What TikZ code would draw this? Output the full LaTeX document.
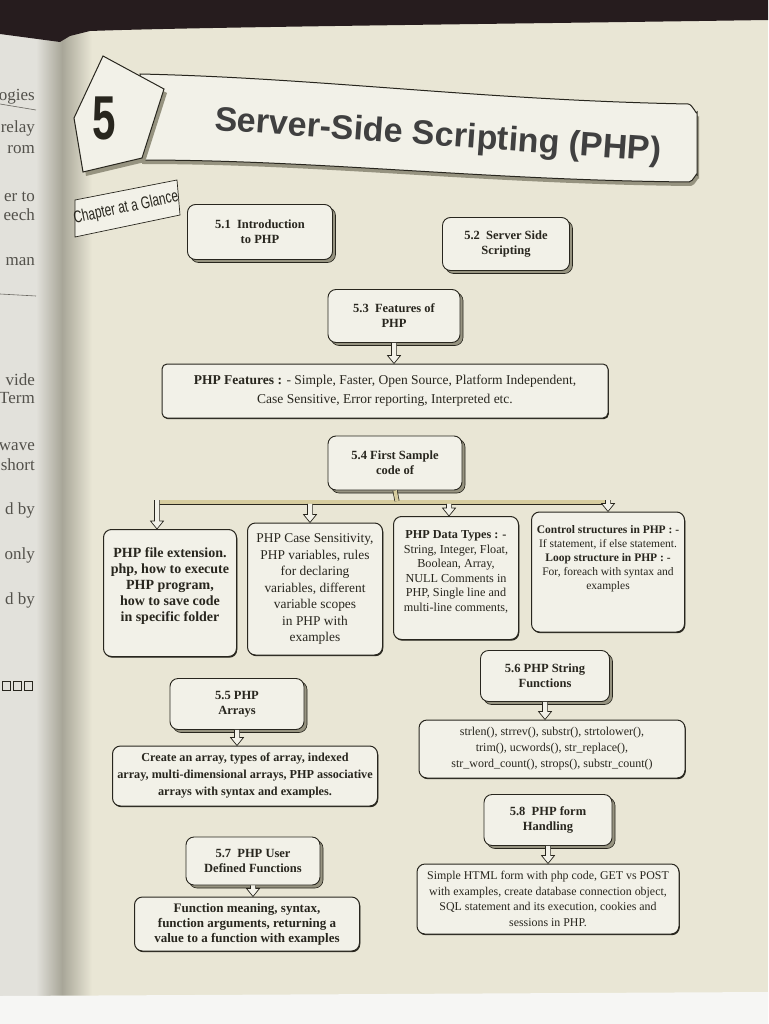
\documentclass[tikz,border=0pt]{standalone}
\usepackage{fontspec}
\setmainfont{Liberation Serif}
\newfontfamily\titlefont{Liberation Sans}
\usetikzlibrary{shadows,calc}
\newcommand{\setfs}[2]{\fontsize{#1}{#2}\selectfont}
\definecolor{pagebg}{RGB}{233,230,213}
\definecolor{boxbg}{RGB}{242,241,232}
\definecolor{leftpg}{RGB}{226,225,219}
\definecolor{spine}{RGB}{168,166,152}
\definecolor{topdark}{RGB}{38,28,30}
\definecolor{bottomw}{RGB}{246,246,244}
\definecolor{ink}{RGB}{40,38,30}
\definecolor{shadowc}{RGB}{150,147,128}
\definecolor{treefill}{RGB}{214,204,158}
\tikzset{
  head/.style={draw=ink, line width=0.9pt, rounded corners=8pt, fill=boxbg, align=center,
    text=ink, font=\bfseries\setfs{12.5}{15}, inner sep=2pt,
    general shadow={shadow xshift=3pt, shadow yshift=-3pt, fill=shadowc, draw=ink, line width=0.6pt}},
  desc/.style={draw=ink, line width=1pt, rounded corners=8pt, fill=boxbg, align=center,
    text=ink, inner sep=2pt,
    general shadow={shadow xshift=0.8pt, shadow yshift=-1.2pt, fill=ink}},
  blockarrow/.style={draw=ink, line width=0.7pt, fill=boxbg,
    to path={let \p1=(\tikztostart), \p2=(\tikztotarget) in
      (\x1-2.6pt,\y1) -- (\x1-2.6pt,\y2+8pt) -- (\x1-6.5pt,\y2+8pt) -- (\x1,\y2)
      -- (\x1+6.5pt,\y2+8pt) -- (\x1+2.6pt,\y2+8pt) -- (\x1+2.6pt,\y1)}},
  tree/.style={draw=ink, line width=0.7pt, double=treefill, double distance=3.6pt},
  leftword/.style={anchor=east, font=\setfs{17}{17}, text=ink!80, inner sep=0pt}
}
\begin{document}
\begin{tikzpicture}[x=1pt,y=-1pt]
\useasboundingbox (0,0) rectangle (768,1024);
% ---------- background (photo of the page) ----------
\fill[pagebg] (0,0) rectangle (768,1024);
\fill[leftpg] (0,0) rectangle (40,1024);
\shade[left color=leftpg, right color=spine] (36,0) rectangle (62,996);
\shade[left color=spine, right color=pagebg] (62,0) rectangle (92,996);
\fill[topdark] (0,0) -- (768,0) -- (768,20) .. controls (500,24) and (200,27) .. (90,31)
  -- (70,36) -- (60,42) -- (0,34) -- cycle;
\fill[bottomw] (0,996) -- (768,992) -- (768,1024) -- (0,1024) -- cycle;
% ---------- left page fragments ----------
\node[leftword] (l1) at (35,97) {ogies};
\draw[ink!70, line width=0.6pt] (0,104) -- (36,110);
\node[leftword] (l2) at (35,128) {relay};
\node[leftword] (l3) at (35,150) {rom};
\node[leftword] (l4) at (35,197) {er to};
\node[leftword] (l5) at (35,215) {eech};
\node[leftword] (l6) at (35,262) {man};
\draw[ink!70, line width=0.6pt] (0,294) -- (36,296);
\node[leftword] (l7) at (35,380) {vide};
\node[leftword] (l8) at (35,398) {Term};
\node[leftword] (l9) at (35,447) {wave};
\node[leftword] (l10) at (35,465) {short};
\node[leftword] (l11) at (35,510) {d by};
\node[leftword] (l12) at (35,555) {only};
\node[leftword] (l13) at (35,600) {d by};
\foreach \i in {0,1,2} {\draw[ink, line width=1pt] (2+11*\i,681) rectangle (10+11*\i,690);}
% ---------- title banner ----------
\path[draw=ink, line width=1pt, fill=boxbg,
  general shadow={shadow xshift=2pt, shadow yshift=-4pt, fill=shadowc}]
  (140,74) .. controls (320,78) and (480,100) .. (688,104)
  to[out=0,in=-90] (697,112) -- (697,175) to[out=90,in=0] (689,182)
  .. controls (480,180) and (320,160) .. (140,160) -- cycle;
\path[draw=ink, line width=1pt, fill=boxbg,
  general shadow={shadow xshift=3pt, shadow yshift=-4pt, fill=shadowc}]
  (103,56) -- (164,89) -- (142,158) -- (83,172) -- (74,118) -- cycle;
\node[font=\titlefont\bfseries\setfs{62}{62}, text=ink] (num) at (104,118) {\scalebox{0.68}[1]{5}};
\node[rotate=-4, font=\titlefont\bfseries\setfs{34}{34}, text=black!75] (title) at (438,137)
  {Server-Side Scripting (PHP)};
% ---------- chapter at a glance tab ----------
\path[draw=ink, line width=0.7pt, fill=boxbg] (75,200) -- (177,180) -- (180,215) -- (75,237) -- cycle;
\node[rotate=12, font=\titlefont\setfs{17}{17}, text=ink] (cag) at (126,208)
  {\scalebox{0.7}[1]{Chapter at a Glance}};
% ---------- boxes ----------
\node[head, minimum width=145pt, minimum height=55pt] (s51) at (260,232) {5.1~~Introduction\\ to PHP};
\node[head, minimum width=127pt, minimum height=53pt] (s52) at (506,244) {5.2~~Server Side\\ Scripting};
\node[head, minimum width=132pt, minimum height=53pt] (s53) at (394,316) {5.3~~Features of\\ PHP};
\node[desc, rounded corners=5pt, minimum width=446pt, minimum height=54pt, font=\setfs{13.5}{19}] (feat) at (385,391)
  {\textbf{PHP Features :} - Simple, Faster, Open Source, Platform Independent,\\ Case Sensitive, Error reporting, Interpreted etc.};
\node[head, minimum width=134pt, minimum height=54pt] (s54) at (395,463) {5.4 First Sample\\ code of};
\node[desc, minimum width=133pt, minimum height=127pt, font=\bfseries\setfs{14}{16}] (bA) at (170,593)
  {PHP file extension.\\ php, how to execute\\ PHP program,\\ how to save code\\ in specific folder\\ ~};
\node[desc, minimum width=135pt, minimum height=132pt, font=\setfs{13.4}{16.5}] (bB) at (315,589)
  {PHP Case Sensitivity,\\ PHP variables, rules\\ for declaring\\ variables, different\\ variable scopes\\ in PHP with\\ examples};
\node[desc, minimum width=125pt, minimum height=123pt, font=\setfs{12.2}{14.5}] (bC) at (456,578)
  {\textbf{PHP Data Types : -}\\ String, Integer, Float,\\ Boolean, Array,\\ NULL Comments in\\ PHP, Single line and\\ multi-line comments,\\ ~};
\node[desc, minimum width=153pt, minimum height=120pt, font=\setfs{11.5}{14}] (bD) at (608,572)
  {\textbf{Control structures in PHP : -}\\ If statement, if else statement.\\ \textbf{Loop structure in PHP : -}\\ For, foreach with syntax and\\ examples\\ ~\\ ~};
\node[head, minimum width=129pt, minimum height=51pt] (s56) at (545,676) {5.6 PHP String\\ Functions};
\node[desc, minimum width=266pt, minimum height=58pt, font=\setfs{12}{16}] (strl) at (552,749)
  {strlen(), strrev(), substr(), strtolower(),\\ trim(), ucwords(), str\_replace(),\\ str\_word\_count(), strops(), substr\_count()};
\node[head, minimum width=134pt, minimum height=51pt] (s55) at (237,704) {5.5 PHP\\ Arrays};
\node[desc, minimum width=265pt, minimum height=60pt, font=\bfseries\setfs{12.2}{17}] (arr) at (245,776)
  {Create an array, types of array, indexed\\ array, multi-dimensional arrays, PHP associative\\ arrays with syntax and examples.};
\node[head, minimum width=128pt, minimum height=51pt] (s58) at (548,820) {5.8~~PHP form\\ Handling};
\node[desc, minimum width=262pt, minimum height=70pt, font=\setfs{11.9}{15.5}] (form) at (548,899)
  {Simple HTML form with php code, GET vs POST\\ with examples, create database connection object,\\ SQL statement and its execution, cookies and\\ sessions in PHP.};
\node[head, minimum width=134pt, minimum height=48pt] (s57) at (253,861) {5.7~~PHP User\\ Defined Functions};
\node[desc, minimum width=225pt, minimum height=54pt, font=\bfseries\setfs{13}{15}] (func) at (247,924)
  {Function meaning, syntax,\\ function arguments, returning a\\ value to a function with examples};
% ---------- connectors ----------
\coordinate (tj) at (397,501);
\coordinate (tlft) at (154.4,502);
\coordinate (trgt) at (610.6,502);
\coordinate (tA) at (157,500);
\coordinate (tB) at (310,503.8);
\coordinate (tC) at (449,503.8);
\coordinate (tD) at (608,500);
\draw[tree] (tlft) -- (trgt);
\draw[tree] (s54.south) -- (tj);
\draw[blockarrow] (tA) to (bA.north);
\draw[blockarrow] (tB) to (bB.north);
\draw[blockarrow] (tC) to (bC.north);
\draw[blockarrow] (tD) to (bD.north);
\draw[blockarrow] (s53.south) to (feat.north);
\draw[blockarrow] (s56.south) to (strl.north);
\draw[blockarrow] (s55.south) to (arr.north);
\draw[blockarrow] (s58.south) to (form.north);
\draw[blockarrow] (s57.south) to (func.north);
\end{tikzpicture}
\end{document}
